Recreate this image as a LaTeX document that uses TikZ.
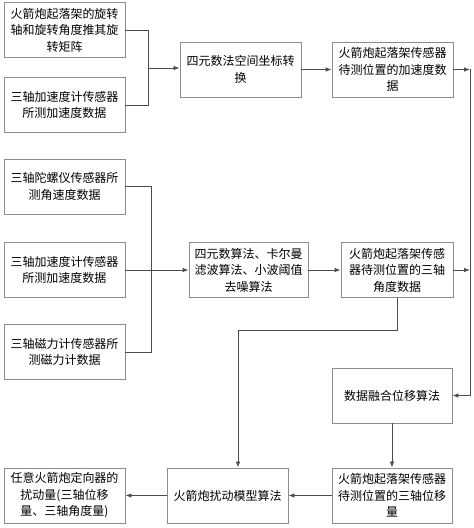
\documentclass[tikz,border=0pt]{standalone}
\usepackage{fontspec}
\usepackage{tikz}
\usetikzlibrary{arrows.meta, positioning}
\newfontfamily\cjk{Noto Sans CJK SC}

\begin{document}
\begin{tikzpicture}[
    x=1pt, y=-1pt,
    box/.style={rectangle, minimum width=121pt, minimum height=55pt, align=center, draw=black!45, line width=0.9pt, inner sep=2pt, font=\cjk\fontsize{12}{16.5}\selectfont},
    link/.style={draw=black!70, line width=0.8pt},
    arr/.style={link, -{Latex[length=6pt,width=4.5pt]}}
]
\useasboundingbox (0,0) rectangle (474,528);

% Upper input layer
\node[box] (rotmat) at (64.5,30) {火箭炮起落架的旋转\\轴和旋转角度推其旋\\转矩阵};
\node[box] (accin) at (64.5,105) {三轴加速度计传感器\\所测加速度数据};
\node[box] (quatconv) at (240.5,69.5) {四元数法空间坐标转\\换};
\node[box] (accpos) at (392.5,69.5) {火箭炮起落架传感器\\待测位置的加速度数\\据};

% Lower input layer
\node[box] (gyro) at (64.5,186.5) {三轴陀螺仪传感器所\\测角速度数据};
\node[box] (acc) at (64.5,270) {三轴加速度计传感器\\所测加速度数据};
\node[box] (magn) at (64.5,352) {三轴磁力计传感器所\\测磁力计数据};
\node[box, minimum width=119pt] (filter) at (248.5,270) {四元数算法、卡尔曼\\滤波算法、小波阈值\\去噪算法};
\node[box, minimum width=112pt] (angpos) at (397,270) {火箭炮起落架传感\\器待测位置的三轴\\角度数据};

% Fusion and output layer
\node[box, minimum width=120pt] (fusion) at (392,395.5) {数据融合位移算法};
\node[box, minimum width=120pt] (disp) at (392,495.5) {火箭炮起落架传感器\\待测位置的三轴位移\\量};
\node[box] (model) at (227.5,495.5) {火箭炮扰动模型算法};
\node[box] (result) at (64.5,495.5) {任意火箭炮定向器的\\扰动量(三轴位移\\量、三轴角度量)};

% Junction points
\coordinate (lbus) at (148,68);
\coordinate (mbus) at (151,269);
\coordinate (rbus) at (470,69);
\coordinate (bend) at (238,330);

% Arrows
\draw[link] (rotmat.east) -| (lbus);
\draw[link] (accin.east) -| (lbus);
\draw[arr] (lbus) -- (lbus -| quatconv.west);
\draw[arr] (quatconv.east |- accpos.west) -- (accpos.west);
\draw[arr] (accpos.east) -- (accpos.east -| rbus);
\draw[link] (gyro.east) -| (mbus);
\draw[link] (magn.east) -| (mbus);
\draw[arr] (acc.east) -- (filter.west);
\draw[arr] (filter.east) -- (angpos.west);
\draw[arr] (angpos.east) -- (angpos.east -| rbus);
\draw[arr] (rbus) |- (fusion.east);
\draw[arr] (angpos.south) |- (bend) -- (bend |- model.north);
\draw[arr] (fusion.south) -- (disp.north);
\draw[arr] (disp.west) -- (model.east);
\draw[arr] (model.west) -- (result.east);

\end{tikzpicture}
\end{document}
